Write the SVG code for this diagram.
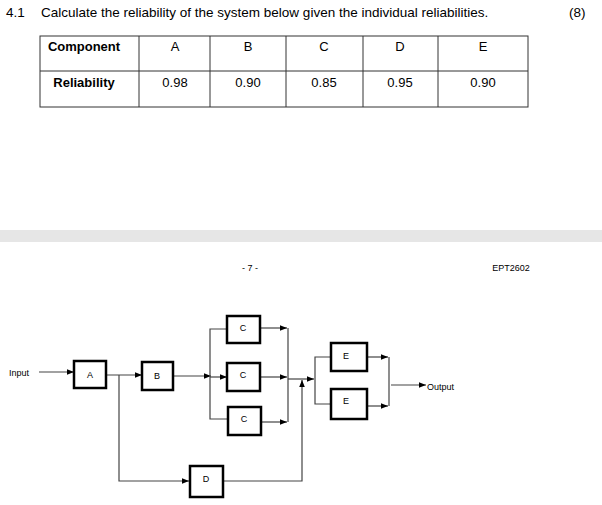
<svg xmlns="http://www.w3.org/2000/svg" width="602" height="505" viewBox="0 0 602 505">
<style>
.t{font-family:"Liberation Sans",Arial,sans-serif;fill:#000}
.b{fill:#fff;stroke:#000;stroke-width:2.5}
.c{fill:none;stroke:#444;stroke-width:1.2}
.g{stroke:#333;stroke-width:1}
</style>
<defs><marker id="ar" viewBox="0 0 10 10" refX="10" refY="5" markerWidth="6" markerHeight="6" orient="auto"><path d="M0,1 L10,5 L0,9z" fill="#000"/></marker></defs>
<rect width="602" height="505" fill="#fff"/>
<text class="t" x="6" y="17" font-size="13.5">4.1</text>
<text class="t" x="41" y="17" font-size="13.5">Calculate the reliability of the system below given the individual reliabilities.</text>
<text class="t" x="569" y="17" font-size="13.5">(8)</text>
<g id="table">
<rect x="40" y="36" width="488" height="71" fill="none" class="g"/>
<line class="g" x1="40" y1="71" x2="528" y2="71"/>
<line class="g" x1="139" y1="36" x2="139" y2="107"/>
<line class="g" x1="210" y1="36" x2="210" y2="107"/>
<line class="g" x1="286" y1="36" x2="286" y2="107"/>
<line class="g" x1="363" y1="36" x2="363" y2="107"/>
<line class="g" x1="438" y1="36" x2="438" y2="107"/>
<g class="t" font-size="13" text-anchor="middle">
<text x="84" y="51" font-weight="bold">Component</text>
<text x="175" y="51">A</text><text x="248" y="51">B</text><text x="324" y="51">C</text><text x="400" y="51">D</text><text x="483" y="51">E</text>
<text x="84" y="87" font-weight="bold">Reliability</text>
<text x="175" y="87">0.98</text><text x="248" y="87">0.90</text><text x="324" y="87">0.85</text><text x="400" y="87">0.95</text><text x="483" y="87">0.90</text>
</g>
</g>
<rect x="0" y="230" width="602" height="12" fill="#e6e6e6"/>
<text class="t" x="250" y="271" font-size="9" text-anchor="middle">- 7 -</text>
<text class="t" x="511" y="271" font-size="9" text-anchor="middle">EPT2602</text>
<text class="t" x="9" y="376" font-size="9">Input</text>
<text class="t" x="427" y="390" font-size="9">Output</text>
<g id="connectors" class="c">
<line x1="39" y1="372" x2="74" y2="372" marker-end="url(#ar)"/>
<line x1="106" y1="375" x2="142" y2="375" marker-end="url(#ar)"/>
<polyline points="119,375 119,481 189,481" marker-end="url(#ar)"/>
<polyline points="223,481 302,481 302,380" marker-end="url(#ar)"/>
<line x1="173" y1="376" x2="211" y2="376" marker-end="url(#ar)"/>
<polyline points="227,329 210,329 210,419 227,419"/>
<line x1="210" y1="377" x2="227" y2="377" marker-end="url(#ar)"/>
<line x1="260" y1="328" x2="287" y2="328" marker-end="url(#ar)"/>
<line x1="260" y1="377" x2="287" y2="377" marker-end="url(#ar)"/>
<line x1="260" y1="422" x2="287" y2="422" marker-end="url(#ar)"/>
<line x1="288" y1="328" x2="288" y2="422"/>
<line x1="288" y1="379" x2="314" y2="379" marker-end="url(#ar)"/>
<polyline points="331,357 315,357 315,404 331,404"/>
<line x1="367" y1="357" x2="388" y2="357" marker-end="url(#ar)"/>
<line x1="367" y1="406" x2="388" y2="406" marker-end="url(#ar)"/>
<line x1="389" y1="357" x2="389" y2="406"/>
<line x1="391" y1="385" x2="426" y2="385" marker-end="url(#ar)"/>
</g>
<g class="t" font-size="9" text-anchor="middle">
<g id="A"><rect class="b" x="74" y="361" width="32" height="27"/><text x="90" y="378">A</text></g>
<g id="B"><rect class="b" x="142" y="362" width="31" height="28"/><text x="157" y="379">B</text></g>
<g id="C1"><rect class="b" x="227" y="316" width="33" height="27"/><text x="243" y="331">C</text></g>
<g id="C2"><rect class="b" x="227" y="363" width="33" height="28"/><text x="243" y="378">C</text></g>
<g id="C3"><rect class="b" x="228" y="407" width="33" height="28"/><text x="244" y="422">C</text></g>
<g id="D"><rect class="b" x="190" y="466" width="33" height="31"/><text x="206" y="482">D</text></g>
<g id="E1"><rect class="b" x="331" y="343" width="36" height="28"/><text x="346" y="359">E</text></g>
<g id="E2"><rect class="b" x="331" y="389" width="36" height="30"/><text x="346" y="404">E</text></g>
</g>
</svg>
